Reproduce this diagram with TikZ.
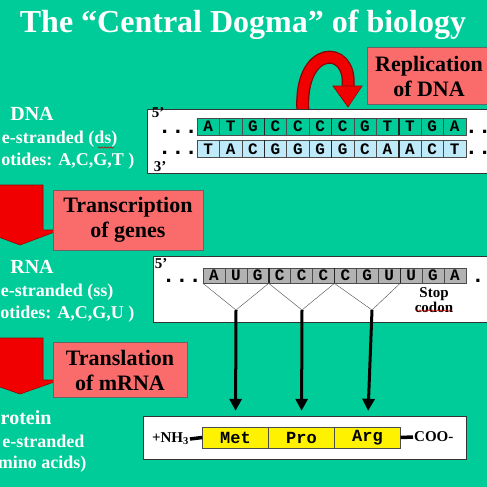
\documentclass[tikz,border=0pt]{standalone}
\usepackage{fontspec}
\setmainfont{Liberation Serif}
\setmonofont{Liberation Mono}
\usetikzlibrary{arrows.meta,decorations.pathmorphing}
\definecolor{slidebg}{RGB}{0,204,153}
\definecolor{labelpink}{RGB}{250,108,108}
\definecolor{strandblue}{RGB}{190,234,250}
\definecolor{rnagray}{RGB}{178,178,178}
\definecolor{dogmared}{RGB}{240,0,0}

\begin{document}
\begin{tikzpicture}[
  x=1pt,y=-1pt,
  title/.style={text=white,font=\fontsize{32}{32}\selectfont\bfseries},
  molecule/.style={text=white,font=\fontsize{20}{20}\selectfont\bfseries},
  side/.style={text=white,anchor=east,font=\fontsize{18}{18}\selectfont\bfseries},
  process/.style={draw=black!60,fill=labelpink,line width=0.8pt,align=center,inner sep=0pt,font=\fontsize{22}{25}\selectfont\bfseries},
  panel/.style={draw=black!80,fill=white,line width=1pt},
  cell/.style={draw=black!70,inner sep=0pt,minimum height=16pt,font=\ttfamily\bfseries\fontsize{16}{16}\selectfont},
  dnacell/.style={cell,minimum width=22.4pt,minimum height=17pt},
  rnacell/.style={cell,fill=rnagray,minimum width=21.9pt,minimum height=15pt},
  aacell/.style={cell,fill=yellow,minimum width=66pt,minimum height=21pt,font=\ttfamily\bfseries\fontsize{17}{17}\selectfont},
  codon/.style={line width=1.6pt,black!85},
  end/.style={inner sep=1pt,font=\fontsize{15}{15}\selectfont\bfseries},
  dots/.style={anchor=base,inner sep=0pt,font=\ttfamily\bfseries\fontsize{22}{22}\selectfont},
  link/.style={line width=3pt,-{Triangle[width=12pt,length=12pt]},shorten >=16pt},
  bigarrow/.style={fill=dogmared,draw=black!40!red,line width=0.6pt},
  squiggle/.style={red!80!black,line width=0.5pt,decorate,decoration={snake,amplitude=0.7pt,segment length=3pt}}
]
  \fill[slidebg] (0,0) rectangle (487,487);
  \clip (0,0) rectangle (487,487);
  \node[title] (heading) at (243,25) {The “Central Dogma” of biology};

  \draw[line width=13pt,black!45!red] (303,112) .. controls (298,44) and (352,44) .. (348,86);
  \draw[line width=10.5pt,dogmared] (303,112) .. controls (298,44) and (352,44) .. (348,86);
  \fill[bigarrow] (333,86) -- (362,86) -- (348,107) -- cycle;
  \node[process,minimum width=124pt,minimum height=57pt] (replication) at (429,76) {Replication\\of DNA};

  \node[molecule] (dna) at (32,114) {DNA};
  \node[side] (dnads) at (121,139) {e-stranded (ds)};
  \node[side] (dnant) at (138,161) {otides: A,C,G,T )};
  \draw[squiggle] (98,147.5) -- (114,147.5);
  \fill[panel] (147,109) rectangle (492,173);
  \node[end] (d5) at (158,113) {5’};
  \node[end] (d3) at (160,167) {3’};
  \node[dots] (dl1) at (178,133) {...};
  \node[dots] (dl2) at (178,154) {...};
  \foreach \base [count=\i] in {A,T,G,C,C,C,C,G,T,T,G,A}
    \node[dnacell,fill=slidebg] (t\i) at ({197+22.4*(\i-0.5)},126.5) {\base};
  \foreach \base [count=\i] in {T,A,C,G,G,G,G,C,A,A,C,T}
    \node[dnacell,fill=strandblue] (b\i) at ({197+22.4*(\i-0.5)},149) {\base};
  \foreach \i in {3,6,9} {
    \draw[codon] (t\i.north east) -- (t\i.south east);
    \draw[codon] (b\i.north east) -- (b\i.south east);
  }
  \node[dots] (dr1) at (478,133) {..};
  \node[dots] (dr2) at (478,154) {..};

  \fill[bigarrow] (-3,185) -- (43,185) -- (43,230) -- (60,230) -- (20,245) -- (-20,230) -- (-3,230) -- cycle;
  \node[process,minimum width=150pt,minimum height=60pt] (transcription) at (128,220) {Transcription\\of genes};

  \node[molecule] (rna) at (32,267) {RNA};
  \node[side] (rnass) at (117,292) {e-stranded (ss)};
  \node[side] (rnant) at (138,314) {otides: A,C,G,U )};
  \fill[panel] (153,256) rectangle (492,322);
  \node[end] (r5) at (161,264) {5’};
  \node[dots] (rl) at (182,282) {...};
  \foreach \base [count=\i] in {A,U,G,C,C,C,C,G,U,U,G,A}
    \node[rnacell] (r\i) at ({203+21.9*(\i-0.5)},275.5) {\base};
  \foreach \i in {3,6,9}
    \draw[codon] (r\i.north east) -- (r\i.south east);
  \node[dots] (rr) at (478,282) {.};
  \node[end,align=center] (stop) at (434,300) {Stop\\codon};
  \draw[squiggle] (416,310.5) -- (452,310.5);
  \coordinate (apex1) at (236,310);
  \coordinate (apex2) at (302,310);
  \coordinate (apex3) at (372,310);
  \draw[black!70] (r1.south west) -- (apex1) -- (r3.south east);
  \draw[black!70] (r4.south west) -- (apex2) -- (r6.south east);
  \draw[black!70] (r7.south west) -- (apex3) -- (r9.south east);

  \fill[bigarrow] (-3,338) -- (43,338) -- (43,380) -- (60,380) -- (20,394) -- (-20,380) -- (-3,380) -- cycle;
  \node[process,minimum width=134pt,minimum height=55pt] (translation) at (120,370) {Translation\\of mRNA};

  \node[molecule,anchor=east] (protein) at (55,418) {rotein};
  \node[side] (protds) at (88,441) {e-stranded};
  \node[side] (protaa) at (90,464) {mino acids)};
  \fill[panel] (143,416) rectangle (466,459);
  \node[aacell] (met) at (235.5,437.5) {Met};
  \node[aacell] (pro) at (301.5,437.5) {Pro};
  \node[aacell] (arg) at (367.5,437.5) {Arg};
  \node[end,anchor=east] (amino) at (190,439) {+NH\textsubscript{3}};
  \node[end,anchor=west] (carboxyl) at (413,437) {COO-};
  \draw[line width=3.5pt] (amino.east) -- (met.west);
  \draw[line width=3.5pt] (arg.east) -- (carboxyl.west);

  \draw[link] (apex1) -- (met.north);
  \draw[link] (apex2) -- (pro.north);
  \draw[link] (apex3) -- (arg.north);
\end{tikzpicture}
\end{document}
